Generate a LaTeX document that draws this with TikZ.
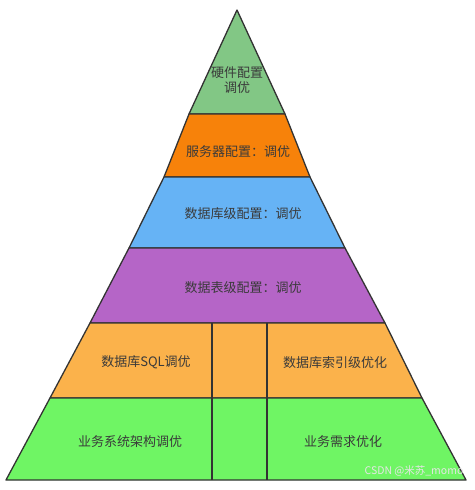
\documentclass[tikz,border=0pt]{standalone}
\usepackage{fontspec}
\newfontfamily\cjk{Noto Sans CJK SC}
\definecolor{edge}{HTML}{333333}
\definecolor{txt}{HTML}{3A3A3A}
\definecolor{cA}{HTML}{82C785}
\definecolor{cB}{HTML}{F7820A}
\definecolor{cC}{HTML}{66B3F5}
\definecolor{cD}{HTML}{B565C7}
\definecolor{cE}{HTML}{FBB24B}
\definecolor{cF}{HTML}{6FF564}
\begin{document}
\begin{tikzpicture}[x=1pt,y=-1pt,
  layer/.style={draw=edge, line width=1.3pt, line join=round},
  lbl/.style={font=\cjk\fontsize{13}{15}\selectfont, text=txt, inner sep=0pt, align=center}]
\useasboundingbox (0,0) rectangle (474,490);
\fill[white] (0,0) rectangle (474,490);
\filldraw[layer, fill=cA] (237,10) -- (285,114) -- (189,114) -- cycle;
\filldraw[layer, fill=cB] (189,114) -- (285,114) -- (310,177) -- (164,177) -- cycle;
\filldraw[layer, fill=cC] (164,177) -- (310,177) -- (345,248) -- (129,248) -- cycle;
\filldraw[layer, fill=cD] (129,248) -- (345,248) -- (385,323) -- (90,323) -- cycle;
\filldraw[layer, fill=cE] (90,323) -- (385,323) -- (422,398) -- (50,398) -- cycle;
\filldraw[layer, fill=cF] (50,398) -- (422,398) -- (466,480) -- (6,480) -- cycle;
\coordinate (d1t) at (212,323); \coordinate (d1b) at (212,480);
\coordinate (d2t) at (267,323); \coordinate (d2b) at (267,480);
\draw[layer] (d1t) -- (d1b);
\draw[layer] (d2t) -- (d2b);
\node[lbl] (t1) at (237,80.5) {硬件配置\\调优};
\node[lbl] (t2) at (238,152) {服务器配置：调优};
\node[lbl] (t3) at (243,214) {数据库级配置：调优};
\node[lbl] (t4) at (243,288) {数据表级配置：调优};
\node[lbl] (t5) at (146,362) {数据库SQL调优};
\node[lbl] (t6) at (335,363) {数据库索引级优化};
\node[lbl] (t7) at (130,442) {业务系统架构调优};
\node[lbl] (t8) at (343,442) {业务需求优化};
\node[font=\cjk\fontsize{10.5}{10.5}\selectfont, text=white!80!gray, inner sep=0pt] (wm) at (414,471) {CSDN @米苏\_momo};
\end{tikzpicture}
\end{document}
